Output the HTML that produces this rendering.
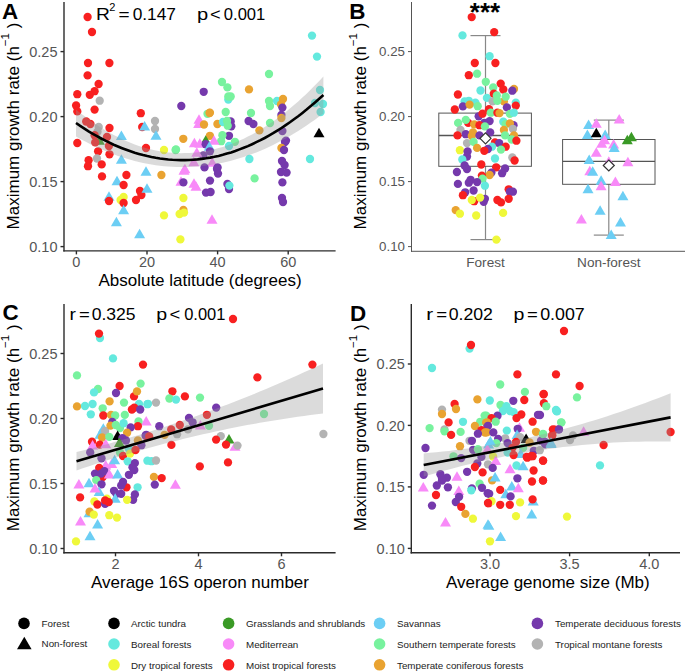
<!DOCTYPE html><html><head><meta charset="utf-8"><style>html,body{margin:0;padding:0;background:#fff;width:685px;height:672px;overflow:hidden}svg{display:block;font-family:"Liberation Sans",sans-serif}</style></head><body><svg width="685" height="672" viewBox="0 0 685 672" font-family='"Liberation Sans", sans-serif'>
<rect width="685" height="672" fill="#fff"/>
<text x="2" y="19" font-size="22.4" font-weight="bold" fill="#000">A</text>
<text transform="translate(18.7,126) rotate(-90)" font-size="17.0" fill="#000" text-anchor="middle">Maximum growth rate (h<tspan dy="-9.5" font-size="11.5">−1</tspan><tspan dy="9.5"> )</tspan></text>
<circle cx="87.6" cy="17.0" r="4.15" fill="#F82020"/>
<circle cx="92.0" cy="32.0" r="4.15" fill="#F82020"/>
<circle cx="88.0" cy="63.0" r="4.15" fill="#F82020"/>
<circle cx="109.4" cy="63.0" r="4.15" fill="#F82020"/>
<circle cx="87.6" cy="75.4" r="4.15" fill="#F82020"/>
<circle cx="98.6" cy="84.0" r="4.15" fill="#F82020"/>
<circle cx="94.6" cy="91.2" r="4.15" fill="#F82020"/>
<circle cx="89.8" cy="94.8" r="4.15" fill="#F82020"/>
<circle cx="77.3" cy="94.2" r="4.15" fill="#F82020"/>
<circle cx="99.7" cy="100.7" r="4.15" fill="#B3B3B3"/>
<circle cx="76.1" cy="105.5" r="4.15" fill="#F82020"/>
<circle cx="77.3" cy="111.4" r="4.15" fill="#F82020"/>
<circle cx="94.6" cy="109.6" r="4.15" fill="#F82020"/>
<circle cx="86.2" cy="121.5" r="4.15" fill="#F82020"/>
<circle cx="90.4" cy="124.0" r="4.15" fill="#F82020"/>
<circle cx="98.7" cy="126.9" r="4.15" fill="#B3B3B3"/>
<circle cx="109.5" cy="128.0" r="4.15" fill="#F82020"/>
<circle cx="97.5" cy="131.7" r="4.15" fill="#B3B3B3"/>
<circle cx="97.0" cy="141.0" r="4.15" fill="#B3B3B3"/>
<path d="M93.8 144.8L104.8 144.8L99.3 135.2Z" fill="#3A9A26"/>
<circle cx="94.6" cy="135.2" r="4.15" fill="#F82020"/>
<circle cx="95.2" cy="142.4" r="4.15" fill="#F82020"/>
<circle cx="107.0" cy="137.0" r="4.15" fill="#F82020"/>
<circle cx="108.9" cy="146.0" r="4.15" fill="#F82020"/>
<circle cx="109.5" cy="154.3" r="4.15" fill="#F82020"/>
<circle cx="77.3" cy="143.0" r="4.15" fill="#F82020"/>
<circle cx="98.1" cy="151.3" r="4.15" fill="#F82020"/>
<circle cx="97.0" cy="158.5" r="4.15" fill="#B3B3B3"/>
<circle cx="88.6" cy="160.2" r="4.15" fill="#F82020"/>
<circle cx="88.0" cy="166.2" r="4.15" fill="#F82020"/>
<circle cx="101.7" cy="164.4" r="4.15" fill="#F82020"/>
<circle cx="140.8" cy="113.2" r="4.15" fill="#F82020"/>
<circle cx="142.2" cy="127.0" r="4.15" fill="#F82020"/>
<path d="M139.1 130.4L150.1 130.4L144.6 121.0Z" fill="#6CCEF4"/>
<circle cx="155.0" cy="121.0" r="4.15" fill="#B3B3B3"/>
<circle cx="155.0" cy="129.0" r="4.15" fill="#B3B3B3"/>
<path d="M150.5 139.8L161.5 139.8L156.0 130.2Z" fill="#6CCEF4"/>
<path d="M115.9 139.9L126.9 139.9L121.4 130.4Z" fill="#6CCEF4"/>
<path d="M115.9 163.8L126.9 163.8L121.4 154.2Z" fill="#6CCEF4"/>
<circle cx="146.0" cy="148.0" r="4.15" fill="#F82020"/>
<circle cx="164.0" cy="150.0" r="4.15" fill="#EFF83A"/>
<circle cx="175.6" cy="150.0" r="4.15" fill="#78F29E"/>
<circle cx="183.3" cy="138.8" r="4.15" fill="#E9A331"/>
<circle cx="126.4" cy="175.0" r="4.15" fill="#F82020"/>
<circle cx="102.0" cy="176.4" r="4.15" fill="#F82020"/>
<path d="M140.5 175.8L151.5 175.8L146.0 166.2Z" fill="#6CCEF4"/>
<circle cx="161.4" cy="175.0" r="4.15" fill="#E9A331"/>
<path d="M178.5 174.8L189.5 174.8L184.0 165.2Z" fill="#F88AF8"/>
<path d="M175.5 185.8L186.5 185.8L181.0 176.2Z" fill="#F88AF8"/>
<circle cx="183.4" cy="182.4" r="4.15" fill="#7539AC"/>
<path d="M188.5 187.8L199.5 187.8L194.0 178.2Z" fill="#F88AF8"/>
<path d="M190.5 190.8L201.5 190.8L196.0 181.2Z" fill="#F88AF8"/>
<path d="M111.5 185.3L122.5 185.3L117.0 175.8Z" fill="#6CCEF4"/>
<circle cx="123.6" cy="185.0" r="4.15" fill="#F82020"/>
<path d="M103.5 200.8L114.5 200.8L109.0 191.2Z" fill="#6CCEF4"/>
<circle cx="109.0" cy="201.0" r="4.15" fill="#F82020"/>
<circle cx="120.6" cy="200.0" r="4.15" fill="#EFF83A"/>
<circle cx="123.6" cy="197.0" r="4.15" fill="#EFF83A"/>
<circle cx="123.6" cy="203.0" r="4.15" fill="#F82020"/>
<circle cx="140.0" cy="191.0" r="4.15" fill="#F82020"/>
<circle cx="141.4" cy="195.0" r="4.15" fill="#F82020"/>
<circle cx="136.0" cy="200.0" r="4.15" fill="#F82020"/>
<path d="M141.5 192.8L152.5 192.8L147.0 183.2Z" fill="#6CCEF4"/>
<path d="M118.1 214.2L129.1 214.2L123.6 204.7Z" fill="#6CCEF4"/>
<path d="M110.9 226.2L121.9 226.2L116.4 216.7Z" fill="#6CCEF4"/>
<path d="M134.1 238.2L145.1 238.2L139.6 228.7Z" fill="#6CCEF4"/>
<circle cx="164.0" cy="215.4" r="4.15" fill="#EFF83A"/>
<circle cx="183.4" cy="198.0" r="4.15" fill="#EFF83A"/>
<circle cx="183.4" cy="210.0" r="4.15" fill="#E9A331"/>
<circle cx="179.6" cy="214.0" r="4.15" fill="#EFF83A"/>
<circle cx="184.0" cy="212.6" r="4.15" fill="#EFF83A"/>
<circle cx="180.4" cy="239.4" r="4.15" fill="#EFF83A"/>
<circle cx="181.3" cy="106.0" r="4.15" fill="#7539AC"/>
<circle cx="203.7" cy="91.8" r="4.15" fill="#7539AC"/>
<circle cx="228.3" cy="99.5" r="4.15" fill="#64E9DE"/>
<circle cx="228.3" cy="96.5" r="4.15" fill="#78F29E"/>
<circle cx="230.7" cy="96.5" r="4.15" fill="#78F29E"/>
<circle cx="207.5" cy="113.8" r="4.15" fill="#78F29E"/>
<circle cx="209.9" cy="112.6" r="4.15" fill="#E9A331"/>
<circle cx="225.7" cy="112.0" r="4.15" fill="#78F29E"/>
<path d="M193.5 123.8L204.5 123.8L199.0 114.2Z" fill="#F88AF8"/>
<path d="M193.1 128.1L204.1 128.1L198.6 118.5Z" fill="#F88AF8"/>
<circle cx="204.0" cy="124.5" r="4.15" fill="#E9A331"/>
<circle cx="217.4" cy="124.0" r="4.15" fill="#E9A331"/>
<circle cx="223.0" cy="122.0" r="4.15" fill="#64E9DE"/>
<circle cx="230.7" cy="121.5" r="4.15" fill="#7539AC"/>
<circle cx="231.3" cy="126.3" r="4.15" fill="#7539AC"/>
<circle cx="227.0" cy="121.0" r="4.15" fill="#78F29E"/>
<circle cx="227.7" cy="125.7" r="4.15" fill="#78F29E"/>
<circle cx="248.6" cy="121.0" r="4.15" fill="#7539AC"/>
<circle cx="253.4" cy="124.0" r="4.15" fill="#7539AC"/>
<circle cx="229.0" cy="135.8" r="4.15" fill="#7539AC"/>
<circle cx="222.4" cy="135.2" r="4.15" fill="#78F29E"/>
<circle cx="221.2" cy="141.2" r="4.15" fill="#78F29E"/>
<circle cx="234.9" cy="141.8" r="4.15" fill="#78F29E"/>
<circle cx="229.0" cy="146.0" r="4.15" fill="#64E9DE"/>
<circle cx="209.9" cy="135.8" r="4.15" fill="#E9A331"/>
<path d="M200.2 144.8L211.2 144.8L205.7 135.2Z" fill="#3A9A26"/>
<path d="M208.5 144.8L219.5 144.8L214.0 135.2Z" fill="#F88AF8"/>
<path d="M188.9 147.2L199.9 147.2L194.4 137.7Z" fill="#F88AF8"/>
<path d="M194.3 147.8L205.3 147.8L199.8 138.2Z" fill="#F88AF8"/>
<circle cx="205.7" cy="144.2" r="4.15" fill="#7539AC"/>
<path d="M203.8 150.8L214.8 150.8L209.3 141.2Z" fill="#6CCEF4"/>
<circle cx="209.9" cy="151.3" r="4.15" fill="#7539AC"/>
<circle cx="203.3" cy="155.5" r="4.15" fill="#7539AC"/>
<path d="M191.3 156.8L202.3 156.8L196.8 147.2Z" fill="#F88AF8"/>
<circle cx="176.0" cy="149.5" r="4.15" fill="#78F29E"/>
<path d="M188.3 166.2L199.3 166.2L193.8 156.7Z" fill="#F88AF8"/>
<path d="M206.8 166.8L217.8 166.8L212.3 157.2Z" fill="#F88AF8"/>
<circle cx="204.5" cy="167.4" r="4.15" fill="#7539AC"/>
<circle cx="217.6" cy="167.4" r="4.15" fill="#7539AC"/>
<path d="M179.4 173.3L190.4 173.3L184.9 163.8Z" fill="#F88AF8"/>
<circle cx="217.0" cy="169.0" r="4.15" fill="#7539AC"/>
<circle cx="218.0" cy="173.6" r="4.15" fill="#7539AC"/>
<circle cx="210.0" cy="180.6" r="4.15" fill="#7539AC"/>
<circle cx="206.0" cy="192.6" r="4.15" fill="#7539AC"/>
<circle cx="210.6" cy="192.0" r="4.15" fill="#7539AC"/>
<circle cx="227.4" cy="184.0" r="4.15" fill="#7539AC"/>
<circle cx="229.0" cy="189.0" r="4.15" fill="#7539AC"/>
<circle cx="229.4" cy="185.6" r="4.15" fill="#64E9DE"/>
<path d="M206.5 223.8L217.5 223.8L212.0 214.2Z" fill="#F88AF8"/>
<circle cx="249.4" cy="159.0" r="4.15" fill="#64E9DE"/>
<circle cx="254.6" cy="178.4" r="4.15" fill="#78F29E"/>
<circle cx="312.0" cy="35.6" r="4.15" fill="#64E9DE"/>
<circle cx="317.0" cy="56.6" r="4.15" fill="#64E9DE"/>
<circle cx="269.0" cy="74.0" r="4.15" fill="#78F29E"/>
<circle cx="222.0" cy="82.0" r="4.15" fill="#78F29E"/>
<circle cx="227.4" cy="87.4" r="4.15" fill="#78F29E"/>
<circle cx="249.0" cy="89.4" r="4.15" fill="#E9A331"/>
<circle cx="269.0" cy="101.0" r="4.15" fill="#78F29E"/>
<circle cx="270.0" cy="106.0" r="4.15" fill="#78F29E"/>
<circle cx="277.0" cy="101.0" r="4.15" fill="#64E9DE"/>
<circle cx="283.0" cy="99.0" r="4.15" fill="#E9A331"/>
<circle cx="281.0" cy="104.4" r="4.15" fill="#E9A331"/>
<circle cx="282.4" cy="107.6" r="4.15" fill="#7539AC"/>
<circle cx="320.0" cy="90.0" r="4.15" fill="#64E9DE"/>
<circle cx="315.0" cy="103.0" r="4.15" fill="#64E9DE"/>
<circle cx="323.0" cy="104.0" r="4.15" fill="#64E9DE"/>
<circle cx="320.6" cy="112.0" r="4.15" fill="#64E9DE"/>
<circle cx="209.6" cy="113.0" r="4.15" fill="#E9A331"/>
<circle cx="251.0" cy="113.0" r="4.15" fill="#78F29E"/>
<circle cx="281.4" cy="115.0" r="4.15" fill="#7539AC"/>
<circle cx="281.4" cy="118.0" r="4.15" fill="#E9A331"/>
<circle cx="270.0" cy="123.0" r="4.15" fill="#78F29E"/>
<circle cx="259.4" cy="130.4" r="4.15" fill="#E9A331"/>
<circle cx="282.4" cy="131.0" r="4.15" fill="#7539AC"/>
<path d="M313.5 137.3L324.5 137.3L319.0 127.8Z" fill="#000000"/>
<circle cx="310.0" cy="159.0" r="4.15" fill="#64E9DE"/>
<circle cx="285.0" cy="142.0" r="4.15" fill="#7539AC"/>
<circle cx="286.0" cy="140.6" r="4.15" fill="#7539AC"/>
<circle cx="281.4" cy="148.0" r="4.15" fill="#E9A331"/>
<circle cx="284.0" cy="150.0" r="4.15" fill="#7539AC"/>
<circle cx="282.0" cy="161.0" r="4.15" fill="#7539AC"/>
<circle cx="284.6" cy="165.0" r="4.15" fill="#7539AC"/>
<circle cx="281.0" cy="172.0" r="4.15" fill="#7539AC"/>
<circle cx="286.6" cy="172.6" r="4.15" fill="#7539AC"/>
<circle cx="282.4" cy="182.4" r="4.15" fill="#7539AC"/>
<circle cx="282.0" cy="198.0" r="4.15" fill="#7539AC"/>
<circle cx="283.0" cy="202.0" r="4.15" fill="#7539AC"/>
<polygon points="76.0,109.5 80.2,112.9 84.4,116.1 88.6,119.2 92.8,122.2 97.0,125.0 101.2,127.7 105.4,130.3 109.5,132.7 113.7,135.0 117.9,137.1 122.1,139.2 126.3,141.0 130.5,142.8 134.7,144.4 138.9,145.9 143.1,147.2 147.3,148.4 151.5,149.5 155.7,150.4 159.9,151.2 164.1,151.9 168.3,152.4 172.4,152.8 176.6,153.0 180.8,153.2 185.0,153.1 189.2,153.0 193.4,152.7 197.6,152.3 201.8,151.7 206.0,151.0 210.2,150.2 214.4,149.2 218.6,148.1 222.8,146.9 227.0,145.5 231.1,144.0 235.3,142.4 239.5,140.6 243.7,138.7 247.9,136.6 252.1,134.4 256.3,132.1 260.5,129.6 264.7,127.1 268.9,124.3 273.1,121.5 277.3,118.5 281.5,115.3 285.7,112.0 289.9,108.6 294.0,105.1 298.2,101.4 302.4,97.6 306.6,93.7 310.8,89.6 315.0,85.3 319.2,81.0 323.4,76.5 323.4,113.5 319.2,116.6 315.0,119.7 310.8,122.6 306.6,125.5 302.4,128.3 298.2,130.9 294.0,133.5 289.9,136.0 285.7,138.4 281.5,140.6 277.3,142.8 273.1,144.9 268.9,146.9 264.7,148.9 260.5,150.7 256.3,152.4 252.1,154.0 247.9,155.5 243.7,157.0 239.5,158.3 235.3,159.6 231.1,160.7 227.0,161.8 222.8,162.7 218.6,163.6 214.4,164.3 210.2,165.0 206.0,165.6 201.8,166.1 197.6,166.5 193.4,166.8 189.2,167.0 185.0,167.1 180.8,167.1 176.6,167.0 172.4,166.8 168.3,166.5 164.1,166.2 159.9,165.7 155.7,165.2 151.5,164.5 147.3,163.8 143.1,162.9 138.9,162.0 134.7,160.9 130.5,159.8 126.3,158.6 122.1,157.3 117.9,155.9 113.7,154.3 109.5,152.7 105.4,151.0 101.2,149.3 97.0,147.4 92.8,145.4 88.6,143.3 84.4,141.1 80.2,138.9 76.0,136.5" fill="#999999" fill-opacity="0.35"/>
<polyline points="76.0,123.0 80.2,125.9 84.4,128.6 88.6,131.3 92.8,133.8 97.0,136.2 101.2,138.5 105.4,140.7 109.5,142.7 113.7,144.7 117.9,146.5 122.1,148.2 126.3,149.8 130.5,151.3 134.7,152.7 138.9,153.9 143.1,155.1 147.3,156.1 151.5,157.0 155.7,157.8 159.9,158.5 164.1,159.0 168.3,159.5 172.4,159.8 176.6,160.0 180.8,160.1 185.0,160.1 189.2,160.0 193.4,159.7 197.6,159.4 201.8,158.9 206.0,158.3 210.2,157.6 214.4,156.8 218.6,155.9 222.8,154.8 227.0,153.6 231.1,152.4 235.3,151.0 239.5,149.4 243.7,147.8 247.9,146.1 252.1,144.2 256.3,142.2 260.5,140.2 264.7,138.0 268.9,135.6 273.1,133.2 277.3,130.6 281.5,128.0 285.7,125.2 289.9,122.3 294.0,119.3 298.2,116.2 302.4,112.9 306.6,109.6 310.8,106.1 315.0,102.5 319.2,98.8 323.4,95.0" fill="none" stroke="#000" stroke-width="2.6"/>
<line x1="64" y1="2" x2="64" y2="251.5" stroke="#2b2b2b" stroke-width="1.4"/>
<line x1="60.5" y1="51.6" x2="64" y2="51.6" stroke="#2b2b2b" stroke-width="1.4"/>
<text x="57.5" y="56.8" font-size="14.5" fill="#555555" text-anchor="end">0.25</text>
<line x1="60.5" y1="116.6" x2="64" y2="116.6" stroke="#2b2b2b" stroke-width="1.4"/>
<text x="57.5" y="121.8" font-size="14.5" fill="#555555" text-anchor="end">0.20</text>
<line x1="60.5" y1="181.6" x2="64" y2="181.6" stroke="#2b2b2b" stroke-width="1.4"/>
<text x="57.5" y="186.8" font-size="14.5" fill="#555555" text-anchor="end">0.15</text>
<line x1="60.5" y1="246.6" x2="64" y2="246.6" stroke="#2b2b2b" stroke-width="1.4"/>
<text x="57.5" y="251.8" font-size="14.5" fill="#555555" text-anchor="end">0.10</text>
<line x1="63.3" y1="250.9" x2="335.6" y2="250.9" stroke="#2b2b2b" stroke-width="1.4"/>
<line x1="76.4" y1="250.9" x2="76.4" y2="254.4" stroke="#2b2b2b" stroke-width="1.4"/>
<text x="76.4" y="267.4" font-size="14.5" fill="#555555" text-anchor="middle">0</text>
<line x1="147" y1="250.9" x2="147" y2="254.4" stroke="#2b2b2b" stroke-width="1.4"/>
<text x="147" y="267.4" font-size="14.5" fill="#555555" text-anchor="middle">20</text>
<line x1="217.6" y1="250.9" x2="217.6" y2="254.4" stroke="#2b2b2b" stroke-width="1.4"/>
<text x="217.6" y="267.4" font-size="14.5" fill="#555555" text-anchor="middle">40</text>
<line x1="288.2" y1="250.9" x2="288.2" y2="254.4" stroke="#2b2b2b" stroke-width="1.4"/>
<text x="288.2" y="267.4" font-size="14.5" fill="#555555" text-anchor="middle">60</text>
<text x="200" y="286.3" font-size="17" text-anchor="middle" fill="#000">Absolute latitude (degrees)</text>
<text x="96.10" y="19.7" font-size="17" fill="#000" textLength="13.90" lengthAdjust="spacingAndGlyphs" >R</text>
<text x="109.2" y="11.4" font-size="11" fill="#000">2</text>
<text x="118.60" y="19.7" font-size="17" fill="#000" textLength="11.10" lengthAdjust="spacingAndGlyphs" >=</text>
<text x="132.70" y="19.7" font-size="17" fill="#000" textLength="43.30" lengthAdjust="spacingAndGlyphs" >0.147</text>
<text x="197.10" y="19.7" font-size="17" fill="#000" textLength="11.20" lengthAdjust="spacingAndGlyphs" >p</text>
<text x="210.10" y="19.7" font-size="17" fill="#000" textLength="10.70" lengthAdjust="spacingAndGlyphs" >&lt;</text>
<text x="223.80" y="19.7" font-size="17" fill="#000" textLength="41.50" lengthAdjust="spacingAndGlyphs" >0.001</text>
<text x="349.3" y="18.8" font-size="22.4" font-weight="bold" fill="#000">B</text>
<text transform="translate(366,126) rotate(-90)" font-size="17.0" fill="#000" text-anchor="middle">Maximum growth rate (h<tspan dy="-9.5" font-size="11.5">−1</tspan><tspan dy="9.5"> )</tspan></text>
<line x1="485.5" y1="35.6" x2="485.5" y2="113.1" stroke="#888" stroke-width="1.2"/>
<line x1="485.5" y1="166.3" x2="485.5" y2="239.6" stroke="#888" stroke-width="1.2"/>
<line x1="470.5" y1="35.6" x2="500.5" y2="35.6" stroke="#888" stroke-width="1.2"/>
<line x1="470.5" y1="239.6" x2="500.5" y2="239.6" stroke="#888" stroke-width="1.2"/>
<rect x="438.8" y="113.1" width="92.59999999999997" height="53.20000000000002" fill="none" stroke="#555555" stroke-width="1"/>
<line x1="438.8" y1="135.5" x2="531.4" y2="135.5" stroke="#555555" stroke-width="1.3"/>
<line x1="608.8" y1="120.1" x2="608.8" y2="139.5" stroke="#888" stroke-width="1.2"/>
<line x1="608.8" y1="184.3" x2="608.8" y2="235.1" stroke="#888" stroke-width="1.2"/>
<line x1="593.8" y1="120.1" x2="623.8" y2="120.1" stroke="#888" stroke-width="1.2"/>
<line x1="593.8" y1="235.1" x2="623.8" y2="235.1" stroke="#888" stroke-width="1.2"/>
<rect x="562.6" y="139.5" width="92.39999999999998" height="44.80000000000001" fill="none" stroke="#555555" stroke-width="1"/>
<line x1="562.6" y1="161.3" x2="655" y2="161.3" stroke="#555555" stroke-width="1.3"/>
<circle cx="471.7" cy="17.1" r="4.15" fill="#F82020"/>
<circle cx="462.5" cy="35.4" r="4.15" fill="#64E9DE"/>
<circle cx="494.2" cy="32.1" r="4.15" fill="#F82020"/>
<circle cx="489.6" cy="56.2" r="4.15" fill="#64E9DE"/>
<circle cx="474.8" cy="63.0" r="4.15" fill="#F82020"/>
<circle cx="495.4" cy="63.0" r="4.15" fill="#F82020"/>
<circle cx="468.8" cy="75.2" r="4.15" fill="#F82020"/>
<circle cx="477.1" cy="73.7" r="4.15" fill="#78F29E"/>
<circle cx="485.8" cy="81.8" r="4.15" fill="#78F29E"/>
<circle cx="500.7" cy="83.6" r="4.15" fill="#F82020"/>
<circle cx="480.5" cy="90.5" r="4.15" fill="#64E9DE"/>
<circle cx="493.2" cy="87.4" r="4.15" fill="#78F29E"/>
<circle cx="503.3" cy="89.5" r="4.15" fill="#F82020"/>
<circle cx="514.0" cy="89.0" r="4.15" fill="#E9A331"/>
<circle cx="512.3" cy="90.7" r="4.15" fill="#7539AC"/>
<circle cx="457.9" cy="94.5" r="4.15" fill="#F82020"/>
<circle cx="486.9" cy="97.9" r="4.15" fill="#64E9DE"/>
<circle cx="493.8" cy="93.7" r="4.15" fill="#F82020"/>
<circle cx="492.6" cy="101.4" r="4.15" fill="#B3B3B3"/>
<circle cx="503.9" cy="101.4" r="4.15" fill="#E9A331"/>
<circle cx="496.8" cy="95.5" r="4.15" fill="#78F29E"/>
<circle cx="497.4" cy="100.8" r="4.15" fill="#78F29E"/>
<circle cx="505.7" cy="96.7" r="4.15" fill="#78F29E"/>
<circle cx="464.6" cy="101.4" r="4.15" fill="#64E9DE"/>
<circle cx="468.8" cy="100.8" r="4.15" fill="#64E9DE"/>
<circle cx="475.4" cy="102.6" r="4.15" fill="#64E9DE"/>
<circle cx="462.9" cy="106.4" r="4.15" fill="#7539AC"/>
<circle cx="469.6" cy="104.6" r="4.15" fill="#E9A331"/>
<circle cx="477.7" cy="106.2" r="4.15" fill="#78F29E"/>
<circle cx="454.8" cy="109.5" r="4.15" fill="#F82020"/>
<circle cx="515.8" cy="102.6" r="4.15" fill="#64E9DE"/>
<circle cx="515.8" cy="105.6" r="4.15" fill="#F82020"/>
<circle cx="506.9" cy="107.4" r="4.15" fill="#7539AC"/>
<circle cx="489.0" cy="109.2" r="4.15" fill="#F82020"/>
<circle cx="478.7" cy="116.3" r="4.15" fill="#7539AC"/>
<circle cx="482.5" cy="113.7" r="4.15" fill="#F82020"/>
<circle cx="490.8" cy="112.7" r="4.15" fill="#78F29E"/>
<circle cx="497.4" cy="112.7" r="4.15" fill="#F82020"/>
<circle cx="499.5" cy="113.1" r="4.15" fill="#E9A331"/>
<circle cx="509.9" cy="113.9" r="4.15" fill="#78F29E"/>
<circle cx="513.8" cy="112.7" r="4.15" fill="#64E9DE"/>
<circle cx="458.1" cy="122.9" r="4.15" fill="#78F29E"/>
<circle cx="468.2" cy="122.9" r="4.15" fill="#F82020"/>
<circle cx="465.8" cy="119.9" r="4.15" fill="#78F29E"/>
<circle cx="474.2" cy="124.3" r="4.15" fill="#E9A331"/>
<circle cx="484.3" cy="122.9" r="4.15" fill="#7539AC"/>
<circle cx="489.6" cy="121.1" r="4.15" fill="#7539AC"/>
<circle cx="479.5" cy="125.2" r="4.15" fill="#F82020"/>
<circle cx="484.9" cy="126.4" r="4.15" fill="#78F29E"/>
<circle cx="460.5" cy="130.0" r="4.15" fill="#B3B3B3"/>
<circle cx="465.8" cy="134.2" r="4.15" fill="#7539AC"/>
<circle cx="457.5" cy="135.4" r="4.15" fill="#F82020"/>
<circle cx="473.0" cy="132.4" r="4.15" fill="#E9A331"/>
<circle cx="471.8" cy="136.0" r="4.15" fill="#E9A331"/>
<circle cx="479.5" cy="135.4" r="4.15" fill="#7539AC"/>
<circle cx="490.2" cy="132.4" r="4.15" fill="#7539AC"/>
<circle cx="503.3" cy="121.7" r="4.15" fill="#64E9DE"/>
<circle cx="505.7" cy="124.0" r="4.15" fill="#78F29E"/>
<circle cx="513.5" cy="125.2" r="4.15" fill="#7539AC"/>
<circle cx="509.9" cy="123.5" r="4.15" fill="#E9A331"/>
<circle cx="503.9" cy="130.0" r="4.15" fill="#E9A331"/>
<circle cx="512.9" cy="128.8" r="4.15" fill="#B3B3B3"/>
<circle cx="505.1" cy="135.4" r="4.15" fill="#78F29E"/>
<circle cx="514.0" cy="135.4" r="4.15" fill="#E9A331"/>
<circle cx="511.7" cy="139.5" r="4.15" fill="#78F29E"/>
<circle cx="516.4" cy="140.7" r="4.15" fill="#F82020"/>
<circle cx="495.0" cy="142.5" r="4.15" fill="#F82020"/>
<circle cx="499.2" cy="143.1" r="4.15" fill="#7539AC"/>
<circle cx="505.7" cy="146.7" r="4.15" fill="#F82020"/>
<circle cx="492.0" cy="146.7" r="4.15" fill="#64E9DE"/>
<circle cx="501.0" cy="149.6" r="4.15" fill="#78F29E"/>
<circle cx="467.0" cy="143.1" r="4.15" fill="#B3B3B3"/>
<circle cx="473.6" cy="141.9" r="4.15" fill="#78F29E"/>
<circle cx="477.1" cy="147.9" r="4.15" fill="#E9A331"/>
<circle cx="487.9" cy="149.0" r="4.15" fill="#7539AC"/>
<circle cx="484.3" cy="150.8" r="4.15" fill="#F82020"/>
<circle cx="459.9" cy="150.2" r="4.15" fill="#EFF83A"/>
<circle cx="467.6" cy="151.4" r="4.15" fill="#7539AC"/>
<circle cx="467.0" cy="156.5" r="4.15" fill="#7539AC"/>
<circle cx="462.3" cy="159.5" r="4.15" fill="#64E9DE"/>
<circle cx="495.0" cy="158.5" r="4.15" fill="#64E9DE"/>
<circle cx="512.3" cy="157.5" r="4.15" fill="#B3B3B3"/>
<circle cx="514.6" cy="160.5" r="4.15" fill="#F82020"/>
<circle cx="481.3" cy="164.5" r="4.15" fill="#F82020"/>
<circle cx="464.6" cy="165.5" r="4.15" fill="#7539AC"/>
<circle cx="467.0" cy="169.0" r="4.15" fill="#7539AC"/>
<circle cx="456.9" cy="172.0" r="4.15" fill="#7539AC"/>
<circle cx="496.2" cy="167.3" r="4.15" fill="#F82020"/>
<circle cx="505.1" cy="168.5" r="4.15" fill="#7539AC"/>
<circle cx="502.1" cy="173.2" r="4.15" fill="#7539AC"/>
<circle cx="491.4" cy="172.6" r="4.15" fill="#7539AC"/>
<circle cx="489.6" cy="175.0" r="4.15" fill="#E9A331"/>
<circle cx="481.9" cy="175.6" r="4.15" fill="#F82020"/>
<circle cx="482.5" cy="178.6" r="4.15" fill="#78F29E"/>
<circle cx="470.6" cy="179.8" r="4.15" fill="#7539AC"/>
<circle cx="468.8" cy="182.7" r="4.15" fill="#7539AC"/>
<circle cx="477.1" cy="182.1" r="4.15" fill="#7539AC"/>
<circle cx="484.9" cy="185.7" r="4.15" fill="#64E9DE"/>
<circle cx="457.9" cy="183.9" r="4.15" fill="#7539AC"/>
<circle cx="473.6" cy="190.5" r="4.15" fill="#7539AC"/>
<circle cx="465.2" cy="192.3" r="4.15" fill="#7539AC"/>
<circle cx="462.9" cy="195.2" r="4.15" fill="#F82020"/>
<circle cx="474.2" cy="201.2" r="4.15" fill="#F82020"/>
<circle cx="471.8" cy="200.0" r="4.15" fill="#EFF83A"/>
<circle cx="484.9" cy="198.8" r="4.15" fill="#7539AC"/>
<circle cx="483.7" cy="201.8" r="4.15" fill="#7539AC"/>
<circle cx="480.1" cy="197.6" r="4.15" fill="#EFF83A"/>
<circle cx="508.7" cy="189.3" r="4.15" fill="#F82020"/>
<circle cx="509.9" cy="191.7" r="4.15" fill="#7539AC"/>
<circle cx="512.9" cy="191.7" r="4.15" fill="#7539AC"/>
<circle cx="497.4" cy="200.0" r="4.15" fill="#F82020"/>
<circle cx="501.0" cy="202.4" r="4.15" fill="#F82020"/>
<circle cx="508.7" cy="198.8" r="4.15" fill="#F82020"/>
<circle cx="455.7" cy="210.1" r="4.15" fill="#E9A331"/>
<circle cx="459.9" cy="213.7" r="4.15" fill="#EFF83A"/>
<circle cx="476.2" cy="215.5" r="4.15" fill="#EFF83A"/>
<circle cx="503.1" cy="212.9" r="4.15" fill="#EFF83A"/>
<circle cx="496.4" cy="239.6" r="4.15" fill="#EFF83A"/>
<path d="M583.1 129.1L594.1 129.1L588.6 119.5Z" fill="#6CCEF4"/>
<path d="M590.8 127.7L601.8 127.7L596.3 118.2Z" fill="#F88AF8"/>
<path d="M613.7 123.5L624.7 123.5L619.2 114.0Z" fill="#F88AF8"/>
<path d="M581.9 138.9L592.9 138.9L587.4 129.4Z" fill="#6CCEF4"/>
<path d="M590.8 137.2L601.8 137.2L596.3 127.7Z" fill="#000000"/>
<path d="M599.7 138.9L610.7 138.9L605.2 129.4Z" fill="#6CCEF4"/>
<path d="M599.1 144.2L610.1 144.2L604.6 134.8Z" fill="#F88AF8"/>
<path d="M596.2 147.8L607.2 147.8L601.7 138.3Z" fill="#F88AF8"/>
<path d="M621.8 144.2L632.8 144.2L627.3 134.8Z" fill="#3A9A26"/>
<path d="M625.9 141.2L636.9 141.2L631.4 131.8Z" fill="#3A9A26"/>
<path d="M608.1 148.4L619.1 148.4L613.6 138.9Z" fill="#F88AF8"/>
<path d="M608.7 152.1L619.7 152.1L614.2 142.6Z" fill="#6CCEF4"/>
<path d="M590.8 156.8L601.8 156.8L596.3 147.2Z" fill="#F88AF8"/>
<path d="M583.7 163.9L594.7 163.9L589.2 154.4Z" fill="#6CCEF4"/>
<path d="M622.4 166.2L633.4 166.2L627.9 156.8Z" fill="#F88AF8"/>
<path d="M603.3 165.8L614.3 165.8L608.8 156.2Z" fill="#F88AF8"/>
<path d="M584.3 175.2L595.3 175.2L589.8 165.8Z" fill="#F88AF8"/>
<path d="M587.2 175.8L598.2 175.8L592.7 166.2Z" fill="#6CCEF4"/>
<path d="M595.6 184.8L606.6 184.8L601.1 175.3Z" fill="#6CCEF4"/>
<path d="M595.6 190.2L606.6 190.2L601.1 180.8Z" fill="#F88AF8"/>
<path d="M609.9 186.1L620.9 186.1L615.4 176.6Z" fill="#F88AF8"/>
<path d="M582.5 193.2L593.5 193.2L588.0 183.8Z" fill="#6CCEF4"/>
<path d="M617.4 200.3L628.4 200.3L622.9 190.8Z" fill="#6CCEF4"/>
<path d="M594.6 214.7L605.6 214.7L600.1 205.2Z" fill="#6CCEF4"/>
<path d="M575.9 223.6L586.9 223.6L581.4 214.1Z" fill="#F88AF8"/>
<path d="M615.0 226.6L626.0 226.6L620.5 217.1Z" fill="#6CCEF4"/>
<path d="M605.7 239.1L616.7 239.1L611.2 229.6Z" fill="#6CCEF4"/>
<path d="M485.5 132.8 L491 138.3 L485.5 143.8 L480 138.3Z" fill="#fff" stroke="#333" stroke-width="1.2"/>
<path d="M608.8 160 L614.3 165.5 L608.8 171 L603.3 165.5Z" fill="#fff" stroke="#333" stroke-width="1.2"/>
<line x1="411.5" y1="2" x2="411.5" y2="251.8" stroke="#555" stroke-width="1"/>
<line x1="408.0" y1="51.6" x2="411.5" y2="51.6" stroke="#555" stroke-width="1"/>
<text x="405.0" y="56.4" font-size="13.3" fill="#555555" text-anchor="end">0.25</text>
<line x1="408.0" y1="116.6" x2="411.5" y2="116.6" stroke="#555" stroke-width="1"/>
<text x="405.0" y="121.4" font-size="13.3" fill="#555555" text-anchor="end">0.20</text>
<line x1="408.0" y1="181.6" x2="411.5" y2="181.6" stroke="#555" stroke-width="1"/>
<text x="405.0" y="186.4" font-size="13.3" fill="#555555" text-anchor="end">0.15</text>
<line x1="408.0" y1="246.6" x2="411.5" y2="246.6" stroke="#555" stroke-width="1"/>
<text x="405.0" y="251.4" font-size="13.3" fill="#555555" text-anchor="end">0.10</text>
<line x1="411" y1="251.3" x2="685" y2="251.3" stroke="#555" stroke-width="1"/>
<text x="485.5" y="266.6" font-size="13.6" fill="#555555" text-anchor="middle">Forest</text>
<text x="608.8" y="266.6" font-size="13.6" fill="#555555" text-anchor="middle">Non-forest</text>
<text x="485" y="21" font-size="26" text-anchor="middle" fill="#000" font-weight="bold">***</text>
<text x="2.5" y="320.4" font-size="22.4" font-weight="bold" fill="#000">C</text>
<text transform="translate(18.7,427.8) rotate(-90)" font-size="17.0" fill="#000" text-anchor="middle">Maximum growth rate (h<tspan dy="-9.5" font-size="11.5">−1</tspan><tspan dy="9.5"> )</tspan></text>
<circle cx="100.0" cy="338.0" r="4.15" fill="#64E9DE"/>
<circle cx="99.0" cy="333.6" r="4.15" fill="#F82020"/>
<circle cx="113.0" cy="358.4" r="4.15" fill="#64E9DE"/>
<circle cx="143.0" cy="364.6" r="4.15" fill="#F82020"/>
<circle cx="77.0" cy="375.4" r="4.15" fill="#78F29E"/>
<circle cx="119.6" cy="386.0" r="4.15" fill="#F82020"/>
<circle cx="140.6" cy="383.6" r="4.15" fill="#78F29E"/>
<circle cx="116.0" cy="393.0" r="4.15" fill="#7539AC"/>
<circle cx="134.0" cy="396.4" r="4.15" fill="#F82020"/>
<circle cx="137.0" cy="391.4" r="4.15" fill="#E9A331"/>
<circle cx="98.0" cy="389.0" r="4.15" fill="#78F29E"/>
<circle cx="94.0" cy="392.4" r="4.15" fill="#64E9DE"/>
<circle cx="77.0" cy="406.4" r="4.15" fill="#E9A331"/>
<circle cx="85.0" cy="406.0" r="4.15" fill="#64E9DE"/>
<circle cx="92.6" cy="404.0" r="4.15" fill="#64E9DE"/>
<circle cx="90.8" cy="414.3" r="4.15" fill="#64E9DE"/>
<circle cx="109.6" cy="401.4" r="4.15" fill="#E9A331"/>
<circle cx="124.0" cy="402.6" r="4.15" fill="#78F29E"/>
<circle cx="139.0" cy="404.0" r="4.15" fill="#64E9DE"/>
<circle cx="147.4" cy="404.2" r="4.15" fill="#64E9DE"/>
<circle cx="148.0" cy="403.8" r="4.15" fill="#64E9DE"/>
<circle cx="156.0" cy="402.6" r="4.15" fill="#B3B3B3"/>
<circle cx="102.7" cy="408.3" r="4.15" fill="#78F29E"/>
<circle cx="103.3" cy="415.5" r="4.15" fill="#F82020"/>
<circle cx="111.0" cy="414.9" r="4.15" fill="#E9A331"/>
<circle cx="115.2" cy="415.5" r="4.15" fill="#78F29E"/>
<circle cx="124.8" cy="414.9" r="4.15" fill="#78F29E"/>
<circle cx="131.9" cy="409.5" r="4.15" fill="#F82020"/>
<circle cx="134.3" cy="407.7" r="4.15" fill="#F82020"/>
<circle cx="140.2" cy="409.5" r="4.15" fill="#7539AC"/>
<path d="M140.7 425.6L151.7 425.6L146.2 416.1Z" fill="#F88AF8"/>
<circle cx="138.5" cy="421.4" r="4.15" fill="#78F29E"/>
<circle cx="137.9" cy="426.2" r="4.15" fill="#F82020"/>
<path d="M97.8 432.8L108.8 432.8L103.3 423.2Z" fill="#6CCEF4"/>
<path d="M94.5 438.8L105.5 438.8L100.0 429.2Z" fill="#6CCEF4"/>
<circle cx="105.1" cy="431.0" r="4.15" fill="#B3B3B3"/>
<circle cx="112.3" cy="422.0" r="4.15" fill="#7539AC"/>
<circle cx="110.5" cy="425.6" r="4.15" fill="#E9A331"/>
<circle cx="115.8" cy="425.0" r="4.15" fill="#78F29E"/>
<circle cx="120.0" cy="428.0" r="4.15" fill="#78F29E"/>
<circle cx="123.6" cy="423.2" r="4.15" fill="#64E9DE"/>
<circle cx="130.7" cy="427.4" r="4.15" fill="#7539AC"/>
<circle cx="127.1" cy="432.7" r="4.15" fill="#E9A331"/>
<path d="M112.1 439.9L123.1 439.9L117.6 430.4Z" fill="#000000"/>
<circle cx="102.1" cy="437.5" r="4.15" fill="#E9A331"/>
<circle cx="109.3" cy="436.9" r="4.15" fill="#78F29E"/>
<circle cx="122.4" cy="438.1" r="4.15" fill="#7539AC"/>
<circle cx="126.0" cy="440.5" r="4.15" fill="#7539AC"/>
<path d="M113.9 447.1L124.9 447.1L119.4 437.6Z" fill="#3A9A26"/>
<circle cx="92.0" cy="441.7" r="4.15" fill="#F82020"/>
<path d="M87.1 449.4L98.1 449.4L92.6 439.9Z" fill="#F88AF8"/>
<circle cx="99.8" cy="444.6" r="4.15" fill="#F82020"/>
<path d="M100.2 448.2L111.2 448.2L105.7 438.8Z" fill="#F88AF8"/>
<circle cx="137.9" cy="440.5" r="4.15" fill="#E9A331"/>
<circle cx="145.6" cy="435.7" r="4.15" fill="#7539AC"/>
<circle cx="147.4" cy="436.9" r="4.15" fill="#F82020"/>
<circle cx="141.4" cy="445.2" r="4.15" fill="#7539AC"/>
<circle cx="90.2" cy="452.4" r="4.15" fill="#7539AC"/>
<circle cx="101.5" cy="458.3" r="4.15" fill="#7539AC"/>
<circle cx="120.0" cy="452.4" r="4.15" fill="#78F29E"/>
<circle cx="123.0" cy="456.0" r="4.15" fill="#F82020"/>
<circle cx="128.9" cy="448.8" r="4.15" fill="#64E9DE"/>
<circle cx="130.1" cy="453.6" r="4.15" fill="#EFF83A"/>
<circle cx="135.5" cy="450.0" r="4.15" fill="#F82020"/>
<circle cx="127.7" cy="461.3" r="4.15" fill="#64E9DE"/>
<circle cx="134.9" cy="463.1" r="4.15" fill="#7539AC"/>
<circle cx="132.5" cy="467.3" r="4.15" fill="#7539AC"/>
<path d="M106.2 467.9L117.2 467.9L111.7 458.4Z" fill="#F88AF8"/>
<path d="M100.2 469.6L111.2 469.6L105.7 460.1Z" fill="#F88AF8"/>
<path d="M109.1 464.2L120.1 464.2L114.6 454.8Z" fill="#6CCEF4"/>
<circle cx="99.2" cy="467.9" r="4.15" fill="#F82020"/>
<circle cx="102.7" cy="477.1" r="4.15" fill="#F82020"/>
<circle cx="95.0" cy="473.6" r="4.15" fill="#7539AC"/>
<circle cx="101.0" cy="473.6" r="4.15" fill="#7539AC"/>
<circle cx="104.5" cy="471.2" r="4.15" fill="#7539AC"/>
<path d="M103.8 478.4L114.8 478.4L109.3 468.9Z" fill="#F88AF8"/>
<path d="M112.1 478.4L123.1 478.4L117.6 468.9Z" fill="#6CCEF4"/>
<circle cx="128.9" cy="474.8" r="4.15" fill="#7539AC"/>
<circle cx="134.3" cy="470.0" r="4.15" fill="#7539AC"/>
<circle cx="147.4" cy="460.7" r="4.15" fill="#64E9DE"/>
<path d="M73.4 488.4L84.4 488.4L78.9 478.9Z" fill="#F88AF8"/>
<path d="M83.5 487.2L94.5 487.2L89.0 477.8Z" fill="#6CCEF4"/>
<circle cx="96.2" cy="480.1" r="4.15" fill="#78F29E"/>
<circle cx="101.5" cy="484.3" r="4.15" fill="#7539AC"/>
<path d="M93.7 496.1L104.7 496.1L99.2 486.6Z" fill="#6CCEF4"/>
<path d="M89.5 492.6L100.5 492.6L95.0 483.1Z" fill="#F88AF8"/>
<circle cx="126.5" cy="487.3" r="4.15" fill="#F82020"/>
<circle cx="123.0" cy="481.9" r="4.15" fill="#7539AC"/>
<circle cx="121.2" cy="485.5" r="4.15" fill="#7539AC"/>
<circle cx="137.6" cy="487.3" r="4.15" fill="#64E9DE"/>
<circle cx="114.0" cy="490.8" r="4.15" fill="#7539AC"/>
<circle cx="116.4" cy="493.8" r="4.15" fill="#7539AC"/>
<circle cx="121.2" cy="493.8" r="4.15" fill="#7539AC"/>
<circle cx="134.9" cy="494.4" r="4.15" fill="#7539AC"/>
<circle cx="133.1" cy="499.8" r="4.15" fill="#7539AC"/>
<circle cx="127.1" cy="499.8" r="4.15" fill="#EFF83A"/>
<path d="M109.7 502.8L120.7 502.8L115.2 493.2Z" fill="#6CCEF4"/>
<circle cx="80.1" cy="497.4" r="4.15" fill="#F82020"/>
<circle cx="94.4" cy="501.5" r="4.15" fill="#EFF83A"/>
<circle cx="106.9" cy="498.6" r="4.15" fill="#EFF83A"/>
<circle cx="97.4" cy="504.5" r="4.15" fill="#F82020"/>
<circle cx="105.1" cy="503.9" r="4.15" fill="#7539AC"/>
<circle cx="105.1" cy="500.4" r="4.15" fill="#F82020"/>
<circle cx="108.7" cy="502.1" r="4.15" fill="#F82020"/>
<path d="M83.5 517.2L94.5 517.2L89.0 507.8Z" fill="#6CCEF4"/>
<circle cx="89.6" cy="511.7" r="4.15" fill="#E9A331"/>
<circle cx="93.8" cy="514.6" r="4.15" fill="#EFF83A"/>
<circle cx="109.3" cy="515.2" r="4.15" fill="#EFF83A"/>
<circle cx="117.0" cy="517.6" r="4.15" fill="#EFF83A"/>
<path d="M75.0 525.4L86.0 525.4L80.5 515.9Z" fill="#F88AF8"/>
<path d="M92.1 528.4L103.1 528.4L97.6 518.9Z" fill="#6CCEF4"/>
<path d="M84.5 540.2L95.5 540.2L90.0 530.8Z" fill="#6CCEF4"/>
<circle cx="76.0" cy="541.4" r="4.15" fill="#EFF83A"/>
<circle cx="172.4" cy="391.3" r="4.15" fill="#F82020"/>
<circle cx="169.4" cy="398.5" r="4.15" fill="#78F29E"/>
<circle cx="176.0" cy="399.6" r="4.15" fill="#64E9DE"/>
<circle cx="184.9" cy="396.4" r="4.15" fill="#F82020"/>
<circle cx="200.0" cy="397.6" r="4.15" fill="#78F29E"/>
<circle cx="216.2" cy="407.6" r="4.15" fill="#7539AC"/>
<circle cx="159.3" cy="426.2" r="4.15" fill="#7539AC"/>
<circle cx="189.0" cy="417.9" r="4.15" fill="#7539AC"/>
<circle cx="192.6" cy="422.3" r="4.15" fill="#7539AC"/>
<circle cx="206.9" cy="414.8" r="4.15" fill="#F82020"/>
<circle cx="179.8" cy="425.0" r="4.15" fill="#F82020"/>
<circle cx="171.2" cy="429.4" r="4.15" fill="#F82020"/>
<circle cx="177.1" cy="434.2" r="4.15" fill="#B3B3B3"/>
<circle cx="187.9" cy="429.4" r="4.15" fill="#B3B3B3"/>
<path d="M194.9 429.4L205.9 429.4L200.4 419.9Z" fill="#F88AF8"/>
<circle cx="209.0" cy="425.8" r="4.15" fill="#78F29E"/>
<circle cx="164.6" cy="434.8" r="4.15" fill="#E9A331"/>
<circle cx="146.2" cy="434.8" r="4.15" fill="#7539AC"/>
<circle cx="149.2" cy="436.5" r="4.15" fill="#F82020"/>
<circle cx="171.4" cy="444.9" r="4.15" fill="#F82020"/>
<circle cx="220.8" cy="436.1" r="4.15" fill="#B3B3B3"/>
<circle cx="216.1" cy="439.6" r="4.15" fill="#F82020"/>
<path d="M223.5 443.4L234.5 443.4L229.0 433.9Z" fill="#3A9A26"/>
<circle cx="226.0" cy="444.6" r="4.15" fill="#F82020"/>
<path d="M229.5 450.8L240.5 450.8L235.0 441.2Z" fill="#F88AF8"/>
<circle cx="237.5" cy="445.6" r="4.15" fill="#B3B3B3"/>
<circle cx="228.0" cy="462.4" r="4.15" fill="#F82020"/>
<circle cx="199.8" cy="466.4" r="4.15" fill="#F82020"/>
<circle cx="151.5" cy="461.2" r="4.15" fill="#64E9DE"/>
<circle cx="156.0" cy="460.5" r="4.15" fill="#B3B3B3"/>
<circle cx="153.9" cy="476.9" r="4.15" fill="#E9A331"/>
<circle cx="161.7" cy="478.1" r="4.15" fill="#F82020"/>
<circle cx="154.8" cy="484.6" r="4.15" fill="#7539AC"/>
<path d="M169.9 488.8L180.9 488.8L175.4 479.2Z" fill="#F88AF8"/>
<circle cx="233.0" cy="319.0" r="4.15" fill="#F82020"/>
<circle cx="312.4" cy="364.6" r="4.15" fill="#F82020"/>
<circle cx="257.4" cy="377.4" r="4.15" fill="#F82020"/>
<circle cx="264.0" cy="414.0" r="4.15" fill="#78F29E"/>
<circle cx="323.4" cy="434.0" r="4.15" fill="#B3B3B3"/>
<polygon points="76.5,452.1 82.8,450.5 89.1,448.9 95.5,447.3 101.8,445.6 108.1,443.9 114.4,442.1 120.7,440.3 127.1,438.5 133.4,436.6 139.7,434.7 146.0,432.8 152.3,430.8 158.7,428.8 165.0,426.7 171.3,424.6 177.6,422.5 183.9,420.3 190.3,418.1 196.6,415.9 202.9,413.6 209.2,411.3 215.6,409.0 221.9,406.6 228.2,404.2 234.5,401.7 240.8,399.2 247.2,396.7 253.5,394.2 259.8,391.6 266.1,388.9 272.4,386.2 278.8,383.5 285.1,380.8 291.4,378.0 297.7,375.2 304.0,372.3 310.4,369.4 316.7,366.5 323.0,363.5 323.0,413.5 316.7,414.3 310.4,415.1 304.0,415.9 297.7,416.8 291.4,417.7 285.1,418.7 278.8,419.7 272.4,420.7 266.1,421.7 259.8,422.8 253.5,424.0 247.2,425.1 240.8,426.3 234.5,427.6 228.2,428.8 221.9,430.2 215.6,431.5 209.2,432.9 202.9,434.3 196.6,435.8 190.3,437.3 183.9,438.8 177.6,440.4 171.3,442.0 165.0,443.6 158.7,445.3 152.3,447.0 146.0,448.8 139.7,450.6 133.4,452.4 127.1,454.3 120.7,456.2 114.4,458.1 108.1,460.1 101.8,462.1 95.5,464.1 89.1,466.2 82.8,468.3 76.5,470.5" fill="#999999" fill-opacity="0.35"/>
<line x1="76.5" y1="461.3" x2="323" y2="388.5" stroke="#000" stroke-width="2.6"/>
<line x1="64" y1="304" x2="64" y2="553.5" stroke="#2b2b2b" stroke-width="1.4"/>
<line x1="60.5" y1="353.5" x2="64" y2="353.5" stroke="#2b2b2b" stroke-width="1.4"/>
<text x="57.5" y="358.7" font-size="14.5" fill="#555555" text-anchor="end">0.25</text>
<line x1="60.5" y1="418.5" x2="64" y2="418.5" stroke="#2b2b2b" stroke-width="1.4"/>
<text x="57.5" y="423.7" font-size="14.5" fill="#555555" text-anchor="end">0.20</text>
<line x1="60.5" y1="483.5" x2="64" y2="483.5" stroke="#2b2b2b" stroke-width="1.4"/>
<text x="57.5" y="488.7" font-size="14.5" fill="#555555" text-anchor="end">0.15</text>
<line x1="60.5" y1="548.5" x2="64" y2="548.5" stroke="#2b2b2b" stroke-width="1.4"/>
<text x="57.5" y="553.7" font-size="14.5" fill="#555555" text-anchor="end">0.10</text>
<line x1="63.3" y1="552.8" x2="335.6" y2="552.8" stroke="#2b2b2b" stroke-width="1.4"/>
<line x1="115.5" y1="552.8" x2="115.5" y2="556.3" stroke="#2b2b2b" stroke-width="1.4"/>
<text x="115.5" y="569.3" font-size="14.5" fill="#555555" text-anchor="middle">2</text>
<line x1="198.5" y1="552.8" x2="198.5" y2="556.3" stroke="#2b2b2b" stroke-width="1.4"/>
<text x="198.5" y="569.3" font-size="14.5" fill="#555555" text-anchor="middle">4</text>
<line x1="281.5" y1="552.8" x2="281.5" y2="556.3" stroke="#2b2b2b" stroke-width="1.4"/>
<text x="281.5" y="569.3" font-size="14.5" fill="#555555" text-anchor="middle">6</text>
<text x="200" y="588" font-size="17" text-anchor="middle" fill="#000">Average 16S operon number</text>
<text x="69.50" y="319.7" font-size="17" fill="#000" textLength="6.40" lengthAdjust="spacingAndGlyphs" >r</text>
<text x="79.00" y="319.7" font-size="17" fill="#000" textLength="10.80" lengthAdjust="spacingAndGlyphs" >=</text>
<text x="91.70" y="319.7" font-size="17" fill="#000" textLength="43.90" lengthAdjust="spacingAndGlyphs" >0.325</text>
<text x="156.20" y="319.7" font-size="17" fill="#000" textLength="10.90" lengthAdjust="spacingAndGlyphs" >p</text>
<text x="169.60" y="319.7" font-size="17" fill="#000" textLength="10.80" lengthAdjust="spacingAndGlyphs" >&lt;</text>
<text x="184.20" y="319.7" font-size="17" fill="#000" textLength="41.20" lengthAdjust="spacingAndGlyphs" >0.001</text>
<text x="350" y="320.7" font-size="22.4" font-weight="bold" fill="#000">D</text>
<text transform="translate(366,427.8) rotate(-90)" font-size="17.0" fill="#000" text-anchor="middle">Maximum growth rate (h<tspan dy="-9.5" font-size="11.5">−1</tspan><tspan dy="9.5"> )</tspan></text>
<circle cx="469.6" cy="348.6" r="4.15" fill="#64E9DE"/>
<circle cx="471.0" cy="345.0" r="4.15" fill="#F82020"/>
<circle cx="432.0" cy="368.0" r="4.15" fill="#64E9DE"/>
<circle cx="517.4" cy="374.4" r="4.15" fill="#F82020"/>
<circle cx="500.2" cy="384.5" r="4.15" fill="#78F29E"/>
<circle cx="524.9" cy="391.9" r="4.15" fill="#78F29E"/>
<circle cx="477.4" cy="399.4" r="4.15" fill="#E9A331"/>
<circle cx="489.8" cy="400.5" r="4.15" fill="#64E9DE"/>
<circle cx="513.3" cy="400.8" r="4.15" fill="#7539AC"/>
<circle cx="524.3" cy="400.0" r="4.15" fill="#F82020"/>
<circle cx="543.7" cy="394.0" r="4.15" fill="#F82020"/>
<circle cx="543.9" cy="403.2" r="4.15" fill="#F82020"/>
<circle cx="546.3" cy="406.2" r="4.15" fill="#78F29E"/>
<circle cx="556.4" cy="411.0" r="4.15" fill="#64E9DE"/>
<circle cx="500.5" cy="405.0" r="4.15" fill="#78F29E"/>
<circle cx="454.6" cy="404.0" r="4.15" fill="#F82020"/>
<circle cx="442.0" cy="409.6" r="4.15" fill="#B3B3B3"/>
<circle cx="456.0" cy="409.0" r="4.15" fill="#E9A331"/>
<circle cx="442.0" cy="414.0" r="4.15" fill="#E9A331"/>
<circle cx="506.4" cy="406.2" r="4.15" fill="#64E9DE"/>
<circle cx="502.9" cy="411.0" r="4.15" fill="#64E9DE"/>
<circle cx="510.0" cy="411.0" r="4.15" fill="#64E9DE"/>
<circle cx="513.6" cy="412.1" r="4.15" fill="#64E9DE"/>
<circle cx="521.3" cy="414.5" r="4.15" fill="#F82020"/>
<circle cx="516.5" cy="418.1" r="4.15" fill="#F82020"/>
<circle cx="538.0" cy="414.8" r="4.15" fill="#7539AC"/>
<circle cx="532.6" cy="421.7" r="4.15" fill="#F82020"/>
<circle cx="561.2" cy="422.3" r="4.15" fill="#78F29E"/>
<circle cx="448.6" cy="422.4" r="4.15" fill="#F82020"/>
<circle cx="463.0" cy="421.8" r="4.15" fill="#64E9DE"/>
<circle cx="484.6" cy="415.6" r="4.15" fill="#78F29E"/>
<circle cx="480.2" cy="421.8" r="4.15" fill="#78F29E"/>
<circle cx="486.2" cy="422.4" r="4.15" fill="#E9A331"/>
<circle cx="486.2" cy="415.7" r="4.15" fill="#78F29E"/>
<circle cx="497.5" cy="415.7" r="4.15" fill="#7539AC"/>
<circle cx="491.5" cy="418.1" r="4.15" fill="#F82020"/>
<circle cx="495.7" cy="421.7" r="4.15" fill="#78F29E"/>
<circle cx="487.4" cy="426.0" r="4.15" fill="#7539AC"/>
<circle cx="486.8" cy="422.3" r="4.15" fill="#E9A331"/>
<circle cx="488.0" cy="425.8" r="4.15" fill="#7539AC"/>
<circle cx="429.6" cy="428.1" r="4.15" fill="#78F29E"/>
<circle cx="444.5" cy="429.5" r="4.15" fill="#B3B3B3"/>
<circle cx="444.5" cy="431.3" r="4.15" fill="#78F29E"/>
<circle cx="451.1" cy="434.9" r="4.15" fill="#F82020"/>
<circle cx="460.6" cy="431.9" r="4.15" fill="#78F29E"/>
<circle cx="474.9" cy="426.0" r="4.15" fill="#E9A331"/>
<circle cx="481.4" cy="430.1" r="4.15" fill="#F82020"/>
<circle cx="485.0" cy="432.5" r="4.15" fill="#E9A331"/>
<circle cx="477.9" cy="433.7" r="4.15" fill="#7539AC"/>
<circle cx="486.8" cy="432.4" r="4.15" fill="#E9A331"/>
<circle cx="493.3" cy="432.4" r="4.15" fill="#7539AC"/>
<circle cx="506.8" cy="430.6" r="4.15" fill="#64E9DE"/>
<path d="M514.0 431.8L525.0 431.8L519.5 422.2Z" fill="#F88AF8"/>
<circle cx="517.7" cy="428.8" r="4.15" fill="#7539AC"/>
<path d="M511.6 438.9L522.6 438.9L517.1 429.4Z" fill="#6CCEF4"/>
<circle cx="536.0" cy="431.8" r="4.15" fill="#E9A331"/>
<circle cx="543.1" cy="434.2" r="4.15" fill="#78F29E"/>
<circle cx="552.9" cy="429.4" r="4.15" fill="#F82020"/>
<circle cx="558.8" cy="429.4" r="4.15" fill="#7539AC"/>
<circle cx="552.3" cy="435.4" r="4.15" fill="#F82020"/>
<circle cx="469.5" cy="440.8" r="4.15" fill="#B3B3B3"/>
<circle cx="471.9" cy="440.8" r="4.15" fill="#7539AC"/>
<circle cx="425.5" cy="448.0" r="4.15" fill="#7539AC"/>
<circle cx="460.0" cy="446.2" r="4.15" fill="#E9A331"/>
<circle cx="473.1" cy="449.8" r="4.15" fill="#7539AC"/>
<circle cx="477.9" cy="449.2" r="4.15" fill="#78F29E"/>
<path d="M483.1 448.6L494.1 448.6L488.6 439.1Z" fill="#6CCEF4"/>
<path d="M481.9 453.4L492.9 453.4L487.4 443.9Z" fill="#F88AF8"/>
<circle cx="505.2" cy="438.3" r="4.15" fill="#B3B3B3"/>
<circle cx="520.1" cy="437.1" r="4.15" fill="#B3B3B3"/>
<path d="M520.6 443.1L531.6 443.1L526.1 433.6Z" fill="#000000"/>
<circle cx="529.6" cy="442.5" r="4.15" fill="#E9A331"/>
<circle cx="498.1" cy="438.9" r="4.15" fill="#7539AC"/>
<circle cx="496.3" cy="443.1" r="4.15" fill="#78F29E"/>
<path d="M484.9 445.4L495.9 445.4L490.4 435.9Z" fill="#6CCEF4"/>
<circle cx="507.6" cy="443.1" r="4.15" fill="#7539AC"/>
<circle cx="516.0" cy="441.9" r="4.15" fill="#F82020"/>
<circle cx="541.0" cy="440.7" r="4.15" fill="#7539AC"/>
<circle cx="545.1" cy="444.3" r="4.15" fill="#7539AC"/>
<path d="M545.6 447.9L556.6 447.9L551.1 438.4Z" fill="#6CCEF4"/>
<circle cx="512.4" cy="447.9" r="4.15" fill="#F82020"/>
<circle cx="523.1" cy="447.9" r="4.15" fill="#78F29E"/>
<circle cx="533.8" cy="450.8" r="4.15" fill="#7539AC"/>
<circle cx="539.8" cy="450.2" r="4.15" fill="#B3B3B3"/>
<circle cx="507.6" cy="452.6" r="4.15" fill="#64E9DE"/>
<path d="M515.2 457.9L526.2 457.9L520.7 448.4Z" fill="#6CCEF4"/>
<circle cx="526.7" cy="456.8" r="4.15" fill="#F82020"/>
<circle cx="532.6" cy="456.2" r="4.15" fill="#F82020"/>
<circle cx="513.6" cy="455.0" r="4.15" fill="#F82020"/>
<circle cx="453.5" cy="456.3" r="4.15" fill="#78F29E"/>
<circle cx="461.2" cy="458.1" r="4.15" fill="#7539AC"/>
<circle cx="481.4" cy="456.9" r="4.15" fill="#7539AC"/>
<circle cx="477.3" cy="463.5" r="4.15" fill="#7539AC"/>
<circle cx="474.9" cy="467.0" r="4.15" fill="#F82020"/>
<circle cx="488.0" cy="464.3" r="4.15" fill="#B3B3B3"/>
<circle cx="482.6" cy="472.4" r="4.15" fill="#F82020"/>
<circle cx="467.1" cy="471.8" r="4.15" fill="#7539AC"/>
<circle cx="423.7" cy="474.8" r="4.15" fill="#7539AC"/>
<circle cx="440.4" cy="474.2" r="4.15" fill="#7539AC"/>
<circle cx="442.1" cy="478.3" r="4.15" fill="#7539AC"/>
<circle cx="446.9" cy="477.7" r="4.15" fill="#7539AC"/>
<path d="M451.5 480.8L462.5 480.8L457.0 471.2Z" fill="#F88AF8"/>
<path d="M417.8 491.4L428.8 491.4L423.3 481.9Z" fill="#F88AF8"/>
<circle cx="436.8" cy="485.5" r="4.15" fill="#7539AC"/>
<circle cx="447.9" cy="487.3" r="4.15" fill="#7539AC"/>
<circle cx="479.6" cy="483.7" r="4.15" fill="#78F29E"/>
<circle cx="482.0" cy="487.8" r="4.15" fill="#7539AC"/>
<circle cx="471.9" cy="488.4" r="4.15" fill="#7539AC"/>
<circle cx="471.3" cy="490.3" r="4.15" fill="#64E9DE"/>
<path d="M453.3 494.9L464.3 494.9L458.8 485.4Z" fill="#F88AF8"/>
<circle cx="459.1" cy="496.8" r="4.15" fill="#7539AC"/>
<circle cx="436.0" cy="495.0" r="4.15" fill="#F82020"/>
<circle cx="487.7" cy="493.2" r="4.15" fill="#7539AC"/>
<circle cx="442.0" cy="480.6" r="4.15" fill="#7539AC"/>
<circle cx="432.0" cy="505.6" r="4.15" fill="#7539AC"/>
<circle cx="455.8" cy="502.0" r="4.15" fill="#7539AC"/>
<circle cx="461.2" cy="506.8" r="4.15" fill="#F82020"/>
<circle cx="465.4" cy="513.9" r="4.15" fill="#E9A331"/>
<circle cx="472.9" cy="518.7" r="4.15" fill="#EFF83A"/>
<path d="M440.0 526.5L451.0 526.5L445.5 517.0Z" fill="#F88AF8"/>
<circle cx="488.6" cy="503.2" r="4.15" fill="#F82020"/>
<path d="M482.5 528.8L493.5 528.8L488.0 519.2Z" fill="#6CCEF4"/>
<circle cx="490.0" cy="541.3" r="4.15" fill="#EFF83A"/>
<circle cx="493.1" cy="456.5" r="4.15" fill="#EFF83A"/>
<path d="M490.2 464.9L501.2 464.9L495.7 455.4Z" fill="#F88AF8"/>
<circle cx="531.4" cy="456.0" r="4.15" fill="#F82020"/>
<circle cx="527.3" cy="457.7" r="4.15" fill="#F82020"/>
<circle cx="543.1" cy="460.7" r="4.15" fill="#F82020"/>
<circle cx="492.7" cy="467.9" r="4.15" fill="#7539AC"/>
<path d="M504.5 473.2L515.5 473.2L510.0 463.8Z" fill="#F88AF8"/>
<circle cx="516.5" cy="465.5" r="4.15" fill="#64E9DE"/>
<path d="M517.6 470.2L528.6 470.2L523.1 460.8Z" fill="#6CCEF4"/>
<circle cx="533.6" cy="470.5" r="4.15" fill="#F82020"/>
<circle cx="492.1" cy="480.4" r="4.15" fill="#E9A331"/>
<path d="M489.6 481.6L500.6 481.6L495.1 472.1Z" fill="#6CCEF4"/>
<circle cx="517.4" cy="478.3" r="4.15" fill="#7539AC"/>
<circle cx="532.0" cy="481.5" r="4.15" fill="#F82020"/>
<circle cx="543.0" cy="480.4" r="4.15" fill="#F82020"/>
<path d="M506.3 490.4L517.3 490.4L511.8 480.9Z" fill="#6CCEF4"/>
<path d="M512.8 492.2L523.8 492.2L518.3 482.8Z" fill="#F88AF8"/>
<circle cx="500.2" cy="489.9" r="4.15" fill="#F82020"/>
<circle cx="489.2" cy="493.8" r="4.15" fill="#7539AC"/>
<path d="M500.3 498.2L511.3 498.2L505.8 488.8Z" fill="#6CCEF4"/>
<circle cx="510.6" cy="496.4" r="4.15" fill="#7539AC"/>
<circle cx="491.5" cy="501.2" r="4.15" fill="#EFF83A"/>
<circle cx="488.0" cy="503.0" r="4.15" fill="#F82020"/>
<circle cx="500.2" cy="504.8" r="4.15" fill="#F82020"/>
<circle cx="509.8" cy="504.8" r="4.15" fill="#F82020"/>
<circle cx="520.1" cy="502.4" r="4.15" fill="#EFF83A"/>
<path d="M527.7 505.4L538.7 505.4L533.2 495.9Z" fill="#6CCEF4"/>
<circle cx="532.6" cy="499.4" r="4.15" fill="#F82020"/>
<circle cx="516.0" cy="516.1" r="4.15" fill="#EFF83A"/>
<path d="M526.2 518.5L537.2 518.5L531.7 509.0Z" fill="#6CCEF4"/>
<path d="M483.3 529.8L494.3 529.8L488.8 520.2Z" fill="#6CCEF4"/>
<path d="M495.1 541.0L506.1 541.0L500.6 531.5Z" fill="#6CCEF4"/>
<circle cx="567.0" cy="516.6" r="4.15" fill="#EFF83A"/>
<circle cx="564.0" cy="331.0" r="4.15" fill="#F82020"/>
<circle cx="556.0" cy="374.4" r="4.15" fill="#F82020"/>
<circle cx="579.6" cy="386.0" r="4.15" fill="#F82020"/>
<circle cx="577.0" cy="397.4" r="4.15" fill="#78F29E"/>
<circle cx="543.6" cy="394.4" r="4.15" fill="#F82020"/>
<circle cx="556.0" cy="410.0" r="4.15" fill="#64E9DE"/>
<circle cx="557.0" cy="411.4" r="4.15" fill="#64E9DE"/>
<circle cx="561.4" cy="422.6" r="4.15" fill="#78F29E"/>
<circle cx="555.0" cy="429.6" r="4.15" fill="#F82020"/>
<circle cx="559.0" cy="429.4" r="4.15" fill="#7539AC"/>
<circle cx="552.0" cy="435.6" r="4.15" fill="#F82020"/>
<circle cx="573.0" cy="435.4" r="4.15" fill="#B3B3B3"/>
<circle cx="570.0" cy="440.0" r="4.15" fill="#B3B3B3"/>
<path d="M578.1 435.8L589.1 435.8L583.6 426.2Z" fill="#F88AF8"/>
<circle cx="670.6" cy="432.0" r="4.15" fill="#F82020"/>
<circle cx="603.6" cy="445.0" r="4.15" fill="#F82020"/>
<circle cx="543.0" cy="434.0" r="4.15" fill="#78F29E"/>
<circle cx="545.0" cy="442.0" r="4.15" fill="#7539AC"/>
<path d="M545.5 446.8L556.5 446.8L551.0 437.2Z" fill="#6CCEF4"/>
<circle cx="540.0" cy="415.0" r="4.15" fill="#7539AC"/>
<circle cx="600.0" cy="465.4" r="4.15" fill="#64E9DE"/>
<circle cx="543.0" cy="460.6" r="4.15" fill="#F82020"/>
<circle cx="543.0" cy="480.6" r="4.15" fill="#F82020"/>
<polygon points="423.7,453.4 430.0,452.8 436.4,452.2 442.7,451.6 449.0,450.9 455.4,450.1 461.7,449.3 468.0,448.4 474.3,447.5 480.7,446.5 487.0,445.5 493.3,444.4 499.7,443.3 506.0,442.1 512.3,440.9 518.7,439.6 525.0,438.3 531.3,436.9 537.7,435.5 544.0,434.0 550.3,432.4 556.6,430.8 563.0,429.2 569.3,427.5 575.6,425.7 582.0,423.9 588.3,422.1 594.6,420.2 601.0,418.2 607.3,416.2 613.6,414.1 620.0,412.0 626.3,409.8 632.6,407.6 638.9,405.3 645.3,403.0 651.6,400.6 657.9,398.2 664.3,395.7 670.6,393.2 670.6,441.6 664.3,441.5 657.9,441.5 651.6,441.5 645.3,441.5 638.9,441.7 632.6,441.8 626.3,442.0 620.0,442.3 613.6,442.6 607.3,443.0 601.0,443.5 594.6,443.9 588.3,444.5 582.0,445.1 575.6,445.7 569.3,446.4 563.0,447.1 556.6,447.9 550.3,448.8 544.0,449.7 537.7,450.6 531.3,451.6 525.0,452.7 518.7,453.8 512.3,454.9 506.0,456.1 499.7,457.4 493.3,458.7 487.0,460.1 480.7,461.5 474.3,463.0 468.0,464.5 461.7,466.1 455.4,467.7 449.0,469.4 442.7,471.1 436.4,472.9 430.0,474.7 423.7,476.6" fill="#999999" fill-opacity="0.35"/>
<line x1="423.7" y1="465" x2="670.6" y2="417.4" stroke="#000" stroke-width="2.6"/>
<line x1="411.3" y1="304" x2="411.3" y2="553.5" stroke="#2b2b2b" stroke-width="1.4"/>
<line x1="407.8" y1="364" x2="411.3" y2="364" stroke="#2b2b2b" stroke-width="1.4"/>
<text x="404.8" y="369.2" font-size="14.5" fill="#555555" text-anchor="end">0.25</text>
<line x1="407.8" y1="425.4" x2="411.3" y2="425.4" stroke="#2b2b2b" stroke-width="1.4"/>
<text x="404.8" y="430.6" font-size="14.5" fill="#555555" text-anchor="end">0.20</text>
<line x1="407.8" y1="486.9" x2="411.3" y2="486.9" stroke="#2b2b2b" stroke-width="1.4"/>
<text x="404.8" y="492.1" font-size="14.5" fill="#555555" text-anchor="end">0.15</text>
<line x1="407.8" y1="548.4" x2="411.3" y2="548.4" stroke="#2b2b2b" stroke-width="1.4"/>
<text x="404.8" y="553.6" font-size="14.5" fill="#555555" text-anchor="end">0.10</text>
<line x1="410.6" y1="552.8" x2="680" y2="552.8" stroke="#2b2b2b" stroke-width="1.4"/>
<line x1="490" y1="552.8" x2="490" y2="556.3" stroke="#2b2b2b" stroke-width="1.4"/>
<text x="490" y="569.3" font-size="14.5" fill="#555555" text-anchor="middle">3.0</text>
<line x1="569.6" y1="552.8" x2="569.6" y2="556.3" stroke="#2b2b2b" stroke-width="1.4"/>
<text x="569.6" y="569.3" font-size="14.5" fill="#555555" text-anchor="middle">3.5</text>
<line x1="649.3" y1="552.8" x2="649.3" y2="556.3" stroke="#2b2b2b" stroke-width="1.4"/>
<text x="649.3" y="569.3" font-size="14.5" fill="#555555" text-anchor="middle">4.0</text>
<text x="547.8" y="588.4" font-size="17" text-anchor="middle" fill="#000">Average genome size (Mb)</text>
<text x="426.30" y="319.7" font-size="17" fill="#000" textLength="6.90" lengthAdjust="spacingAndGlyphs" >r</text>
<text x="436.20" y="319.7" font-size="17" fill="#000" textLength="10.90" lengthAdjust="spacingAndGlyphs" >=</text>
<text x="448.70" y="319.7" font-size="17" fill="#000" textLength="44.20" lengthAdjust="spacingAndGlyphs" >0.202</text>
<text x="513.50" y="319.7" font-size="17" fill="#000" textLength="10.90" lengthAdjust="spacingAndGlyphs" >p</text>
<text x="526.90" y="319.7" font-size="17" fill="#000" textLength="10.80" lengthAdjust="spacingAndGlyphs" >=</text>
<text x="540.20" y="319.7" font-size="17" fill="#000" textLength="44.60" lengthAdjust="spacingAndGlyphs" >0.007</text>
<circle cx="24" cy="623.4" r="5.8" fill="#000"/>
<text x="41.6" y="627.1999999999999" font-size="9.8" fill="#222">Forest</text>
<path d="M17.0 649.2L31.6 649.2L24.3 636.8Z" fill="#000"/>
<text x="41.6" y="646.8" font-size="9.8" fill="#222">Non-forest</text>
<circle cx="114" cy="623.4" r="5.8" fill="#000"/>
<text x="131" y="627.1999999999999" font-size="9.8" fill="#222">Arctic tundra</text>
<circle cx="114" cy="644" r="5.8" fill="#64E9DE"/>
<text x="131" y="647.8" font-size="9.8" fill="#222">Boreal forests</text>
<circle cx="114" cy="664.8" r="5.8" fill="#EFF83A"/>
<text x="131" y="668.5999999999999" font-size="9.8" fill="#222">Dry tropical forests</text>
<circle cx="228.6" cy="623.4" r="5.8" fill="#3A9A26"/>
<text x="246" y="627.1999999999999" font-size="9.8" fill="#222">Grasslands and shrublands</text>
<circle cx="228.6" cy="644" r="5.8" fill="#F88AF8"/>
<text x="246" y="647.8" font-size="9.8" fill="#222">Mediterrean</text>
<circle cx="228.6" cy="664.8" r="5.8" fill="#F82020"/>
<text x="246" y="668.5999999999999" font-size="9.8" fill="#222">Moist tropical forests</text>
<circle cx="379.6" cy="623.4" r="5.8" fill="#6CCEF4"/>
<text x="397" y="627.1999999999999" font-size="9.8" fill="#222">Savannas</text>
<circle cx="379.6" cy="644" r="5.8" fill="#78F29E"/>
<text x="397" y="647.8" font-size="9.8" fill="#222">Southern temperate forests</text>
<circle cx="379.6" cy="664.8" r="5.8" fill="#E9A331"/>
<text x="397" y="668.5999999999999" font-size="9.8" fill="#222">Temperate coniferous forests</text>
<circle cx="537.4" cy="623.4" r="5.8" fill="#7539AC"/>
<text x="555" y="627.1999999999999" font-size="9.8" fill="#222">Temperate deciduous forests</text>
<circle cx="537.4" cy="644" r="5.8" fill="#B3B3B3"/>
<text x="555" y="647.8" font-size="9.8" fill="#222">Tropical montane forests</text>
</svg></body></html>
